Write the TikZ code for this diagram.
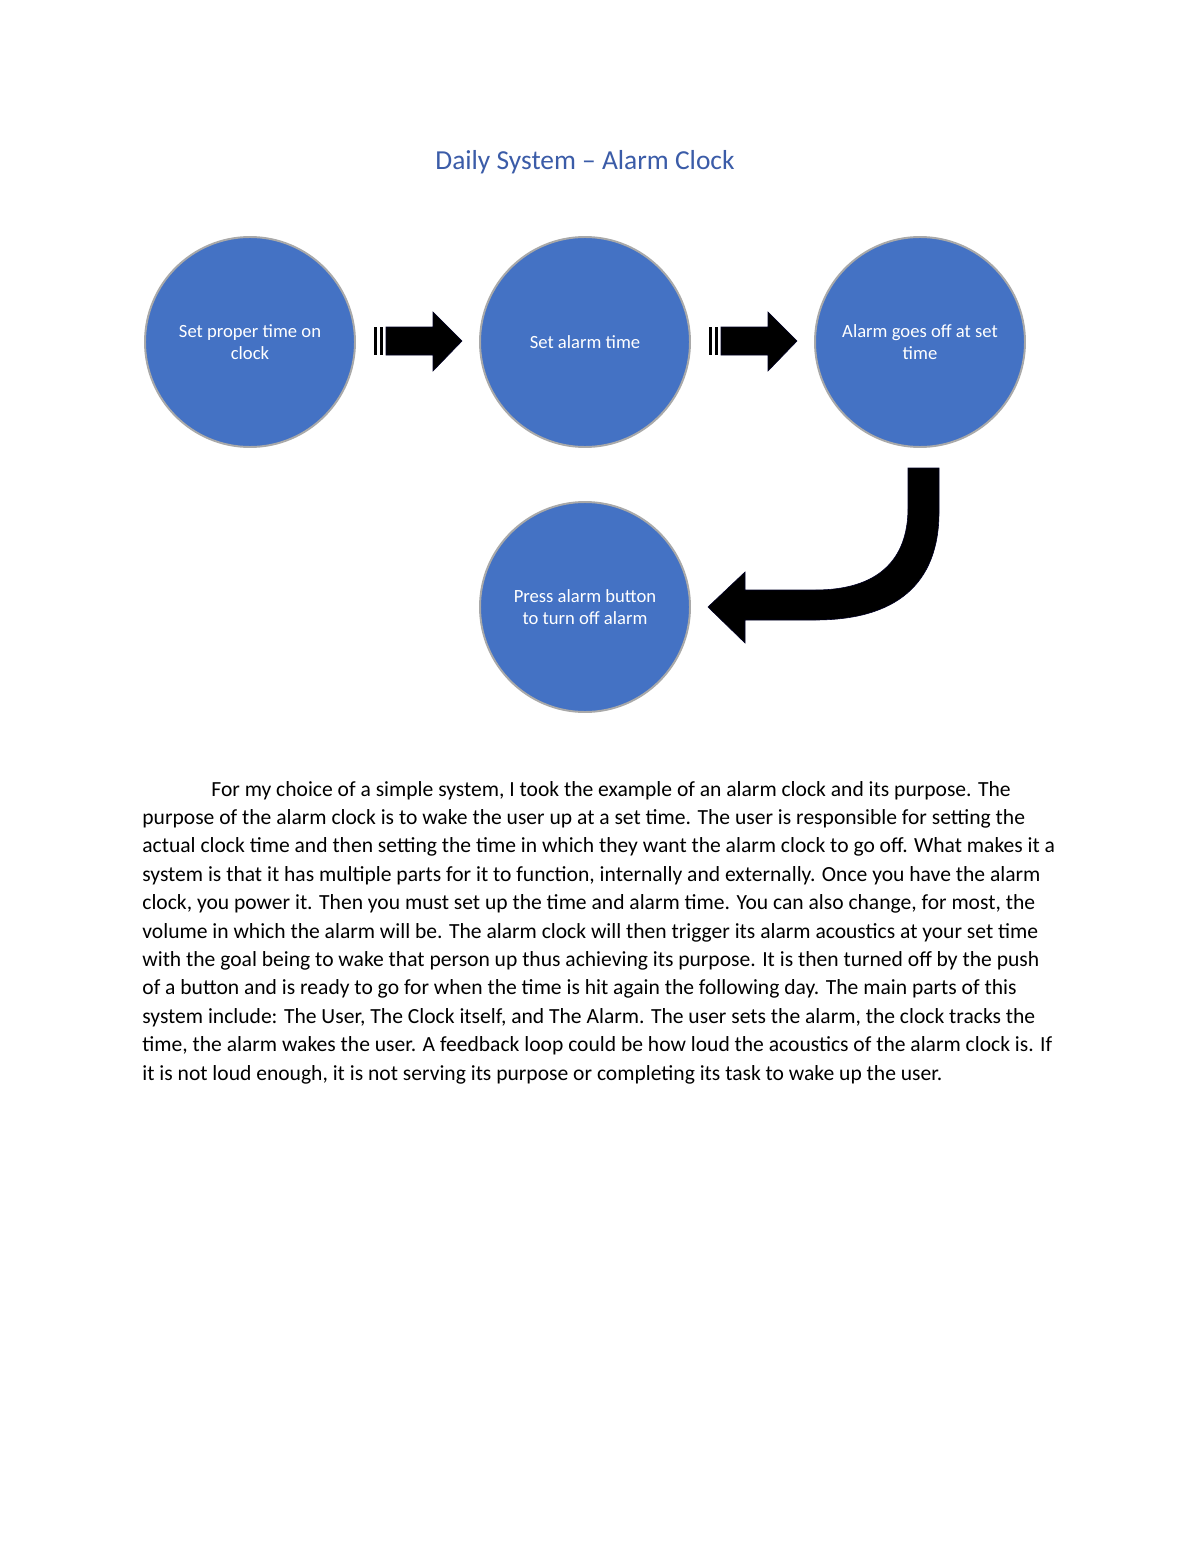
\documentclass[tikz,border=0pt]{standalone}
\usepackage{fontspec}
\setmainfont{Carlito}
\definecolor{circfill}{HTML}{4472C4}
\definecolor{circedge}{HTML}{A9A9A9}
\definecolor{titleblue}{HTML}{3B5CA8}
\begin{document}
\begin{tikzpicture}[x=0.51pt,y=-0.51pt,
  stage/.style={circle,fill=circfill,draw=circedge,line width=1pt,minimum size=210*0.51pt,inner sep=0pt,
    text=white,align=center,font=\fontsize{9.5}{11.2}\selectfont},
  blockarrow/.style={fill=black,draw=black!85!blue,line width=0.3pt},
  bodyline/.style={anchor=base west,inner sep=0pt,font=\fontsize{11}{14}\selectfont}]
\useasboundingbox[fill=white] (0,0) rectangle (1200,1553);

\node[font=\fontsize{14}{17}\selectfont,text=titleblue] (title) at (585,162) {Daily System -- Alarm Clock};

\node[stage] (c1) at (250,342) {Set proper time on\\clock};
\node[stage] (c2) at (585,342) {Set alarm time};
\node[stage] (c3) at (920,342) {Alarm goes off at set\\time};
\node[stage] (c4) at (585,607) {Press alarm button\\to turn off alarm};

% straight block arrows
\foreach \dx/\nm in {0/a, 335/b}{
  \begin{scope}[xshift=\dx*0.51pt]
  \fill[black] (374,327) rectangle (377,355);
  \fill[black] (380,327) rectangle (383,355);
  \filldraw[blockarrow] (386,327) -- (433,327) -- (433,312) -- (462,341) -- (433,371) -- (433,355) -- (386,355) -- cycle;
  \end{scope}
}

% curved block arrow
\filldraw[blockarrow] (939,468) -- (939,512) .. controls (939,585) and (895,620) .. (815,620) -- (745,620)
  -- (745,643) -- (708,607) -- (745,572) -- (745,590) -- (815,590)
  .. controls (878,590) and (908,560) .. (908,508) -- (908,468) -- cycle;

\node[bodyline] (l1) at (211,796) {For my choice of a simple system, I took the example of an alarm clock and its purpose. The};
\node[bodyline] (l2) at (142,824.4) {purpose of the alarm clock is to wake the user up at a set time. The user is responsible for setting the};
\node[bodyline] (l3) at (142,852.8) {actual clock time and then setting the time in which they want the alarm clock to go off. What makes it a};
\node[bodyline] (l4) at (142,881.2) {system is that it has multiple parts for it to function, internally and externally. Once you have the alarm};
\node[bodyline] (l5) at (142,909.6) {clock, you power it. Then you must set up the time and alarm time. You can also change, for most, the};
\node[bodyline] (l6) at (142,938) {volume in which the alarm will be. The alarm clock will then trigger its alarm acoustics at your set time};
\node[bodyline] (l7) at (142,966.4) {with the goal being to wake that person up thus achieving its purpose. It is then turned off by the push};
\node[bodyline] (l8) at (142,994.8) {of a button and is ready to go for when the time is hit again the following day. The main parts of this};
\node[bodyline] (l9) at (142,1023.2) {system include: The User, The Clock itself, and The Alarm. The user sets the alarm, the clock tracks the};
\node[bodyline] (l10) at (142,1051.6) {time, the alarm wakes the user. A feedback loop could be how loud the acoustics of the alarm clock is. If};
\node[bodyline] (l11) at (142,1080) {it is not loud enough, it is not serving its purpose or completing its task to wake up the user.};
\end{tikzpicture}
\end{document}
